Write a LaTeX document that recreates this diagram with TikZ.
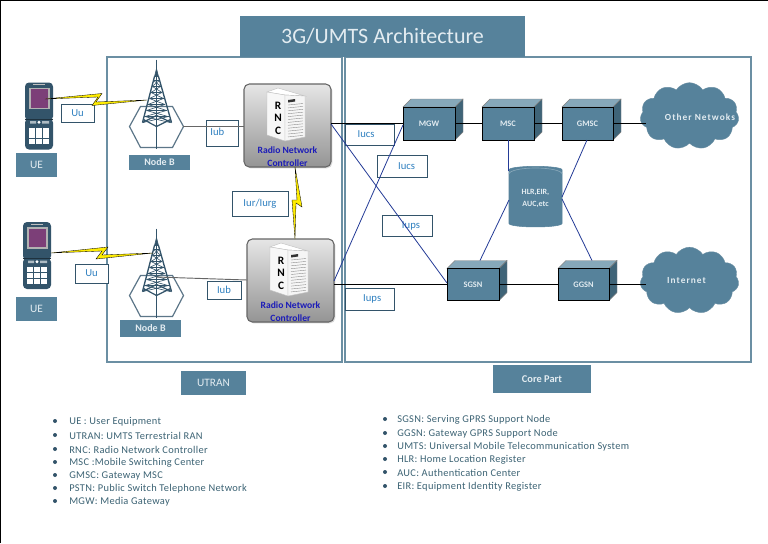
\documentclass[tikz,border=0pt]{standalone}
\usepackage{fontspec}
\setmainfont{Carlito}
\newfontfamily\listfont[LetterSpace=3]{Carlito}
\newfontfamily\cloudfont[LetterSpace=11]{Carlito}
\usetikzlibrary{shapes.symbols,shapes.geometric,shadows}
\definecolor{steel}{HTML}{56829B}
\definecolor{steeltop}{HTML}{86A8BA}
\definecolor{steelside}{HTML}{3F6478}
\definecolor{pale}{HTML}{E3ECF1}
\definecolor{lab}{HTML}{2F80C0}
\definecolor{frameline}{HTML}{6B8FA3}
\definecolor{listtext}{HTML}{3C6374}
\definecolor{towerc}{HTML}{33546A}
\definecolor{rnctext}{HTML}{1C1CB8}
\definecolor{screenc}{HTML}{7C3F78}
\tikzset{
 x=0.75pt,y=-0.75pt,
 softshadow/.style={drop shadow={shadow xshift=1pt,shadow yshift=-1pt,opacity=.25,fill=black!60}},
 banner/.style={fill=steel,text=pale,anchor=center,inner sep=0pt,font=\fontsize{8.5}{10}\selectfont},
 framebox/.style={draw=frameline,line width=.9pt,fill=white,softshadow},
 iflabel/.style={draw=towerc,line width=.7pt,fill=white,text=lab,inner sep=0pt,softshadow,font=\fontsize{8}{10}\selectfont},
 rncbox/.style={draw=black!60,line width=.8pt,rounded corners=4pt,top color=black!10,bottom color=black!42,softshadow},
 frontface/.style={draw=black,line width=.7pt,fill=steel,text=pale,inner sep=0pt,font=\bfseries\fontsize{6.3}{8}\selectfont},
 netcloud/.style={cloud,cloud puffs=11,cloud puff arc=115,aspect=1.5,fill=steel,draw=frameline,line width=.3pt,text=pale,inner sep=0pt},
 blackwire/.style={draw=black,line width=.8pt},
 bluewire/.style={draw=towerc!70!blue,line width=.6pt},
 greywire/.style={draw=black!60,line width=.7pt},
 bolt/.style={fill=yellow!95!orange,draw=black,line width=.25pt},
 listitem/.style={text=listtext,anchor=west,inner sep=0pt,font=\listfont\fontsize{7.8}{9}\selectfont},
 listdot/.style={circle,fill=towerc,inner sep=0pt,minimum size=3pt},
 towerpic/.pic={
  \draw[draw=towerc!80,line width=.9pt,fill=white] (-27,0)--(-16,-20)--(16,-20)--(27,0)--(16,21)--(-16,21)--cycle;
  \draw[towerc,line width=.9pt] (0,-67)--(0,22);
  \draw[towerc,line width=1pt] (-2,-50)--(-14,-4) (2,-50)--(15,-4);
  \draw[towerc,fill=towerc] (-2,-50)--(0,-58)--(2,-50)--cycle;
  \foreach \y/\w in {-46/3,-40/4,-34/5.5,-28/7,-22/8.5,-16/10,-10/12}{
   \draw[towerc,line width=.55pt] (-\w,\y)--(\w,\y);
   \draw[towerc,line width=.45pt] (-\w,\y)--(\w+1.5,\y+6) (\w,\y)--(-\w-1.5,\y+6);}
  \draw[towerc,line width=.9pt] (-14,-4)--(0,-11)--(15,-4) (-13,-7)--(0,0)--(14,-7);
 },
 phonepic/.pic={
  \fill[towerc,rounded corners=3pt] (0,0) rectangle (28,38);
  \fill[towerc,rounded corners=3pt] (0,36) rectangle (28,67);
  \draw[towerc!60!black,line width=.4pt] (0,36.5)--(28,36.5);
  \fill[black!25] (8,1.5) rectangle (20,2.8);
  \draw[black!30,line width=.8pt,fill=screenc] (5,6) rectangle (24,26);
  \fill[white!60!towerc] (5,38.5) rectangle (11,41) (17,38.5) rectangle (24,41);
  \fill[white] (14,39.7) circle (1.7);
  \foreach \cx in {0,1,2}\foreach \cy in {0,1,2}
   \fill[white] (4+\cx*7,45+\cy*5.8) rectangle (10+\cx*7,50+\cy*5.8);
 },
 serverpic/.pic={
  \fill[white,draw=black!25,line width=.3pt] (0,4)--(11,0)--(38,8)--(18,7)--cycle;
  \fill[white!97!black,draw=black!25,line width=.3pt] (0,4)--(18,7)--(18,53)--(0,47)--cycle;
  \fill[black!4,draw=black!25,line width=.3pt] (18,7)--(38,8)--(38,49)--(18,53)--cycle;
  \fill[black!80] (21,12)--(28,11)--(28,13.5)--(21,14.5)--cycle;
  \foreach \i in {0,...,11}
   \draw[black!45,line width=.3pt] (21,17+\i*2.9)--(36,15.5+\i*2.9);
  \node[font=\bfseries\fontsize{8.5}{9}\selectfont,inner sep=0pt] (\pgfkeysvalueof{/tikz/srvname}R) at (11,18) {R};
  \node[font=\bfseries\fontsize{8.5}{9}\selectfont,inner sep=0pt] (\pgfkeysvalueof{/tikz/srvname}N) at (11,30) {N};
  \node[font=\bfseries\fontsize{8.5}{9}\selectfont,inner sep=0pt] (\pgfkeysvalueof{/tikz/srvname}C) at (11,43) {C};
 },
 srvname/.initial=s,
}
\newcommand{\cubeat}[5]{% x0 y0 x1 y1 name/text
 \fill[steeltop,draw=black!50,line width=.3pt] (#1,#2)--(#1+8,#2-8)--(#3+8,#2-8)--(#3,#2)--cycle;
 \fill[steelside,draw=black!50,line width=.3pt] (#3,#2)--(#3+8,#2-8)--(#3+8,#4-8)--(#3,#4)--cycle;
 \node[frontface,minimum width={(#3-#1)*0.75pt},minimum height={(#4-#2)*0.75pt}] (#5) at ({(#1+#3)/2},{(#2+#4)/2}) {#5};}
\begin{document}
\begin{tikzpicture}
\useasboundingbox (0,0) rectangle (768,543);
\fill[white] (0,0) rectangle (768,543);
\draw[black,line width=1.2pt] (0.5,543)--(0.5,0.5)--(768,0.5);
% frames
\node[framebox,minimum width=176.25pt,minimum height=228.75pt] (utranframe) at (224.5,209.5) {};
\node[framebox,minimum width=304.5pt,minimum height=228.75pt] (coreframe) at (548,209.5) {};
% title
\node[banner,minimum width=213.75pt,minimum height=30.75pt,font=\fontsize{16.5}{20}\selectfont] (title) at (382.5,36.5) {3G/UMTS Architecture};
% banners
\node[banner,minimum width=30.75pt,minimum height=18pt] (ueA) at (36.5,165) {UE};
\node[banner,minimum width=30.75pt,minimum height=18pt] (ueB) at (36.5,309) {UE};
\node[banner,minimum width=45.75pt,minimum height=11.5pt,font=\bfseries\fontsize{7.5}{9}\selectfont] (nbA) at (159.5,162.5) {Node B};
\node[banner,minimum width=45.75pt,minimum height=12.75pt,font=\bfseries\fontsize{7.5}{9}\selectfont] (nbB) at (150.5,328.5) {Node B};
\node[banner,minimum width=48.75pt,minimum height=18pt] (utran) at (213.5,383) {UTRAN};
\node[banner,minimum width=73.5pt,minimum height=21pt,font=\bfseries\fontsize{7.8}{9}\selectfont] (corepart) at (542,379) {Core Part};
% towers and phones
\pic at (156.5,126.5) {towerpic};
\pic at (156.5,295.5) {towerpic};
\pic at (25,82.5) {phonepic};
\pic at (23,222) {phonepic};
\coordinate (phoneA) at (45,99);
\coordinate (phoneB) at (51,253);
\coordinate (towerA) at (147,100);
\coordinate (towerB) at (153,253);
\coordinate (hexA) at (183,126);
\coordinate (hexB) at (156,277);
% RNC boxes
\node[rncbox,minimum width=65.25pt,minimum height=62.25pt] (rncA) at (287.5,125.5) {};
\node[rncbox,minimum width=65.25pt,minimum height=62.25pt] (rncB) at (290.5,280.5) {};
\begin{scope}[srvname=sa]
\pic at (267,88) {serverpic};
\end{scope}
\begin{scope}[srvname=sb]
\pic at (270,243) {serverpic};
\end{scope}
\node[text=rnctext,font=\bfseries\fontsize{7.2}{11}\selectfont,align=center,inner sep=0pt] (rncAtext) at (287.5,156.5) {Radio Network\\[-1.2pt]Controller};
\node[text=rnctext,font=\bfseries\fontsize{7.2}{11}\selectfont,align=center,inner sep=0pt] (rncBtext) at (290.5,311.5) {Radio Network\\[-1.2pt]Controller};
% core elements
\cubeat{403}{107}{455}{140}{MGW}
\cubeat{482}{107}{534}{140}{MSC}
\cubeat{562}{107}{613}{140}{GMSC}
\cubeat{447}{268.5}{499}{300.5}{SGSN}
\cubeat{558}{268.5}{609}{300.5}{GGSN}
\node[cylinder,shape border rotate=90,aspect=.25,fill=steel,draw=steel,text=pale,align=center,inner sep=0pt,minimum width=39.75pt,minimum height=45.5pt,font=\bfseries\fontsize{6}{9.5}\selectfont] (hlr) at (535.5,198.5) {HLR,EIR,\\AUC,etc};
\draw[draw=pale!35!steel,line width=.5pt] (509,174) arc[start angle=180,end angle=360,x radius=26.5,y radius=6];
\node[netcloud,minimum width=74pt,minimum height=50pt] (other) at (689.5,116) {};
\node[netcloud,minimum width=74pt,minimum height=50pt] (inet) at (689.5,280.5) {};
\node[text=pale,font=\cloudfont\bfseries\fontsize{7}{9}\selectfont,inner sep=0pt] (othertext) at (700,117) {Other Netwoks};
\node[text=pale,font=\cloudfont\bfseries\fontsize{7}{9}\selectfont,inner sep=0pt] (inettext) at (686.5,281) {Internet};
% endpoints on boxes
\coordinate (rncAout) at (331,123.5);
\coordinate (rncAdiag) at (331,124);
\coordinate (rncBout) at (334,284.5);
\coordinate (rncBdiag) at (334,281);
\coordinate (mgwIn) at (403,123.5);
\coordinate (mgwDiag) at (403,125);
\coordinate (sgsnIn) at (447,284.5);
\coordinate (sgsnDiag) at (447,283);
\coordinate (rncAin) at (244,126);
\coordinate (rncBin) at (247,280);
\coordinate (mscDown) at (508,140);
\coordinate (gmscDown) at (587,140);
\coordinate (hlrTop) at (508,171);
\coordinate (hlrRightA) at (562,197);
\coordinate (hlrRightB) at (562,199);
\coordinate (hlrLeft) at (509,200);
\coordinate (sgsnTop) at (480,260.5);
\coordinate (ggsnTop) at (592,260.5);
\coordinate (otherIn) at (646,123.5);
\coordinate (inetIn) at (646,284.5);
% labels
\node[iflabel,minimum width=24.75pt,minimum height=13.5pt] (uuA) at (77.5,113) {Uu};
\node[iflabel,minimum width=24.75pt,minimum height=14.25pt] (uuB) at (91.5,273.5) {Uu};
\node[iflabel,minimum width=24pt,minimum height=19.5pt] (iubA) at (222,133) {\raisebox{2.5pt}{\hspace*{-7pt}Iub}};
\node[iflabel,minimum width=25.5pt,minimum height=13.5pt] (iubB) at (224,290) {Iub};
\node[iflabel,minimum width=42pt,minimum height=18.75pt] (iur) at (260,203.5) {Iur/Iurg};
\node[iflabel,minimum width=36.75pt,minimum height=15.75pt] (iucsA) at (369.5,134.5) {\hspace*{-5pt}Iucs};
\node[iflabel,minimum width=37.5pt,minimum height=16.5pt] (iucsB) at (402,166) {\hspace{7pt}Iucs};
\node[iflabel,minimum width=37.5pt,minimum height=15.75pt] (iupsA) at (407,225.5) {\hspace{6pt}Iups};
\node[iflabel,minimum width=36.75pt,minimum height=16.5pt] (iupsB) at (369.5,299) {\hspace{4pt}Iups};
% connectors
\draw[greywire] (hexA)--(rncAin);
\draw[greywire] (hexB)--(rncBin);
\draw[blackwire] (rncAout)--(mgwIn);
\draw[blackwire] (rncBout)--(sgsnIn);
\draw[bluewire] (rncAdiag)--(sgsnDiag);
\draw[bluewire] (rncBdiag)--(mgwDiag);
\draw[blackwire] (MGW.east)--(MSC.west);
\draw[blackwire] (MSC.east)--(GMSC.west);
\draw[blackwire] (GMSC.east)--(otherIn);
\draw[blackwire] (SGSN.east)--(GGSN.west);
\draw[blackwire] (GGSN.east)--(inetIn);
\draw[bluewire] (mscDown)--(hlrTop);
\draw[bluewire] (gmscDown)--(hlrRightA);
\draw[bluewire] (hlrLeft)--(sgsnTop);
\draw[bluewire] (hlrRightB)--(ggsnTop);
% lightning bolts
\path[bolt] (phoneA)--(102,93.5)--(96,102)--(towerA)--(92,105.5)--(98,97)--cycle;
\path[bolt] (phoneB)--(108,247)--(102,255)--(towerB)--(96,259)--(102,251)--cycle;
\coordinate (rncAbot) at (295,167);
\coordinate (rncBtop) at (295,239);
\path[bolt] (rncAbot)--(302,207)--(296,203)--(rncBtop)--(292,200)--(297,200)--cycle;
% lists
\foreach \y/\t [count=\n] in {422/{UE : User Equipment},436/{UTRAN: UMTS Terrestrial RAN},450/{RNC: Radio Network Controller},463/{MSC :Mobile Switching Center},476/{GMSC: Gateway MSC},489/{PSTN: Public Switch Telephone Network},502/{MGW: Media Gateway}}{
 \node[listdot] (dotA\n) at (55,\y-1) {};
 \node[listitem] (itemA\n) at (69,\y) {\t};
}
\foreach \y/\t [count=\n] in {420/{SGSN: Serving GPRS Support Node},434/{GGSN: Gateway GPRS Support Node},447/{UMTS: Universal Mobile Telecommunication System},460/{HLR: Home Location Register},473/{AUC: Authentication Center},487/{EIR: Equipment Identity Register}}{
 \node[listdot] (dotB\n) at (385,\y-1) {};
 \node[listitem] (itemB\n) at (397,\y) {\t};
}
\end{tikzpicture}
\end{document}
